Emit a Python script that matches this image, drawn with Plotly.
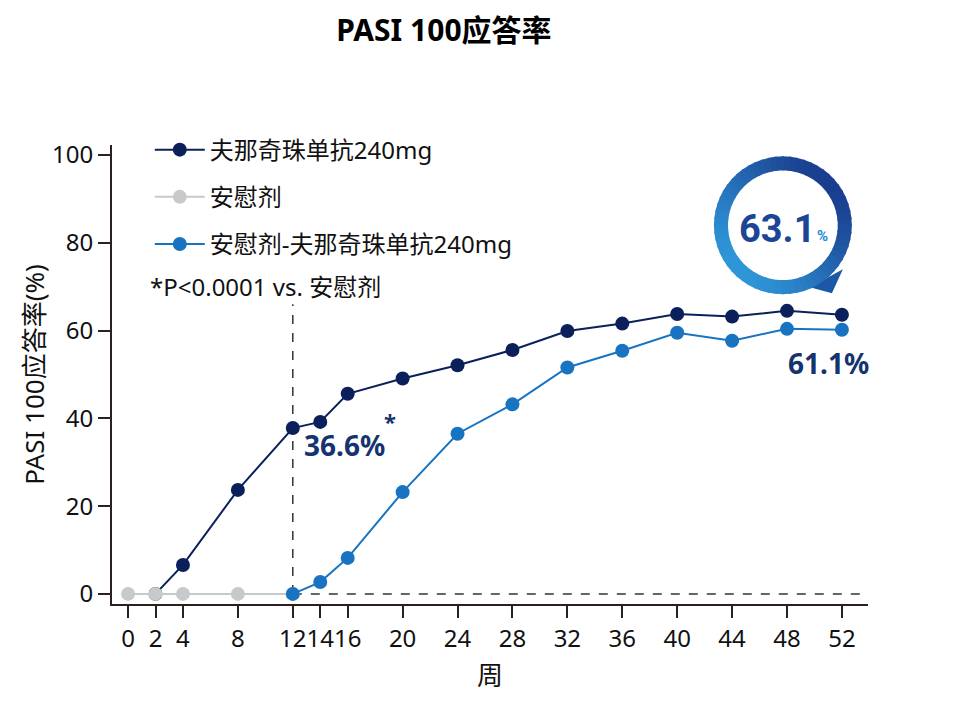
import math
import plotly.graph_objects as go

# weeks and PASI 100 response rates (%)
weeks_vfz = [2, 4, 8, 12, 14, 16, 20, 24, 28, 32, 36, 40, 44, 48, 52]
resp_vfz = [0, 6.6, 23.7, 37.8, 39.2, 45.6, 49.1, 52.1, 55.6, 59.9, 61.6, 63.8, 63.2, 64.5, 63.6]

weeks_pbo = [0, 2, 4, 8, 12]
resp_pbo = [0, 0, 0, 0, 0]

weeks_switch = [12, 14, 16, 20, 24, 28, 32, 36, 40, 44, 48, 52]
resp_switch = [0, 2.7, 8.2, 23.2, 36.5, 43.2, 51.6, 55.4, 59.5, 57.7, 60.4, 60.2]

tick_weeks = [0, 2, 4, 8, 12, 14, 16, 20, 24, 28, 32, 36, 40, 44, 48, 52]

navy = "#0b205a"
grey = "#c8c9cb"
blue = "#1874c1"
font = "Noto Sans, Noto Sans CJK SC"

fig = go.Figure()
fig.add_trace(go.Scatter(x=weeks_vfz, y=resp_vfz, mode="lines+markers", name="夫那奇珠单抗240mg",
                         line=dict(color=navy, width=2), marker=dict(color=navy, size=14),
                         legendgroup="a", legendrank=1))
fig.add_trace(go.Scatter(x=weeks_pbo, y=resp_pbo, mode="lines+markers", name="安慰剂",
                         line=dict(color=grey, width=2), marker=dict(color=grey, size=14),
                         legendgroup="b", legendrank=2))
fig.add_trace(go.Scatter(x=weeks_switch, y=resp_switch, mode="lines+markers", name="安慰剂-夫那奇珠单抗240mg",
                         line=dict(color=blue, width=2), marker=dict(color=blue, size=14),
                         legendgroup="c", legendrank=3))

# dashed reference lines
fig.add_shape(type="line", x0=12, x1=12, y0=0, y1=66, xref="x", yref="y",
              line=dict(color="#333333", width=1.5, dash="dash"), layer="below")
fig.add_shape(type="line", x0=12, x1=53.9, y0=0, y1=0, xref="x", yref="y",
              line=dict(color="#333333", width=1.5, dash="dash"), layer="below")

# speech bubble (anchored in data space, sized in pixels)
bx, by = 47.7, 84.0
bub = dict(xref="x", yref="y", xsizemode="pixel", ysizemode="pixel", xanchor=bx, yanchor=by)
fig.add_shape(type="path", path="M 60,-44 L 49,-68 L 27,-62 Z",
              fillcolor="#1c58a6", line=dict(width=0), **bub)
fig.add_shape(type="circle", x0=-55, x1=55, y0=-55, y1=55,
              fillcolor="white", line=dict(width=0), **bub)
# ring with a light-to-dark blend, drawn as short arcs
light = (46, 150, 216)
dark = (26, 62, 143)
n = 60
for i in range(n):
    a0 = 2 * math.pi * i / n - 0.02
    a1 = 2 * math.pi * (i + 1) / n + 0.02
    mid = (a0 + a1) / 2
    t = (1 - math.cos(mid - math.radians(225))) / 2
    col = "rgb(%d,%d,%d)" % tuple(round(l + (d - l) * t) for l, d in zip(light, dark))
    p = "M %.2f,%.2f L %.2f,%.2f" % (62 * math.cos(a0), 62 * math.sin(a0), 62 * math.cos(a1), 62 * math.sin(a1))
    fig.add_shape(type="path", path=p, line=dict(color=col, width=14), **bub)

fig.add_annotation(x=bx, y=by, xref="x", yref="y", xshift=-6, yshift=-4,
                   text="<b>63.1</b>", showarrow=False,
                   font=dict(family="Roboto", size=38, color="#1d4595"))
fig.add_annotation(x=bx, y=by, xref="x", yref="y", xshift=40, yshift=-11,
                   text="<b>%</b>", showarrow=False,
                   font=dict(family="Roboto", size=15, color="#1d8ad4"))

fig.add_annotation(x=12.7, y=34, xref="x", yref="y", xanchor="left", text="<b>36.6%</b>",
                   showarrow=False, font=dict(family=font, size=28, color="#15336e"))
fig.add_annotation(x=19.1, y=39.5, xref="x", yref="y", text="<b>*</b>",
                   showarrow=False, font=dict(family=font, size=22, color="#15336e"))
fig.add_annotation(x=51.0, y=52.6, xref="x", yref="y", text="<b>61.1%</b>",
                   showarrow=False, font=dict(family=font, size=28, color="#15336e"))
fig.add_annotation(x=0.047, y=0.731, xref="paper", yref="paper", xanchor="left",
                   text="*P<0.0001 vs. 安慰剂", showarrow=False,
                   font=dict(family=font, size=24, color="#111111"))

# page body adds 8px offset, so margins are shifted left/up by 8
fig.update_layout(
    width=958, height=704,
    margin=dict(l=104, r=98, t=137, b=108, autoexpand=False),
    paper_bgcolor="white", plot_bgcolor="white",
    font=dict(family=font, size=22, color="#111111"),
    title=dict(text="<b>PASI 100应答率</b>", x=0.455, xanchor="center", y=0.968, yanchor="middle",
               font=dict(family=font, size=30, color="#000000")),
    legend=dict(x=0.050, y=1.038, xanchor="left", yanchor="top", tracegroupgap=13,
                font=dict(family=font, size=24, color="#111111"), bgcolor="rgba(0,0,0,0)",
                itemwidth=50),
    showlegend=True,
)
fig.update_xaxes(range=[-1.17, 53.9], tickvals=tick_weeks, ticktext=[str(w) for w in tick_weeks],
                 tickangle=0,
                 showgrid=False, zeroline=False, showline=True, linecolor="#2b2020", linewidth=2,
                 ticks="outside", ticklen=12, tickwidth=2, tickcolor="#2b2020",
                 title=dict(text="周", standoff=14), tickfont=dict(size=24))
fig.update_yaxes(range=[-2.3, 102.3], tickvals=[0, 20, 40, 60, 80, 100],
                 showgrid=False, zeroline=False, showline=True, linecolor="#2b2020", linewidth=2,
                 ticks="outside", ticklen=12, tickwidth=2, tickcolor="#2b2020",
                 title=dict(text="PASI 100应答率(%)", standoff=0), tickfont=dict(size=24))

fig.write_html("out.html")
